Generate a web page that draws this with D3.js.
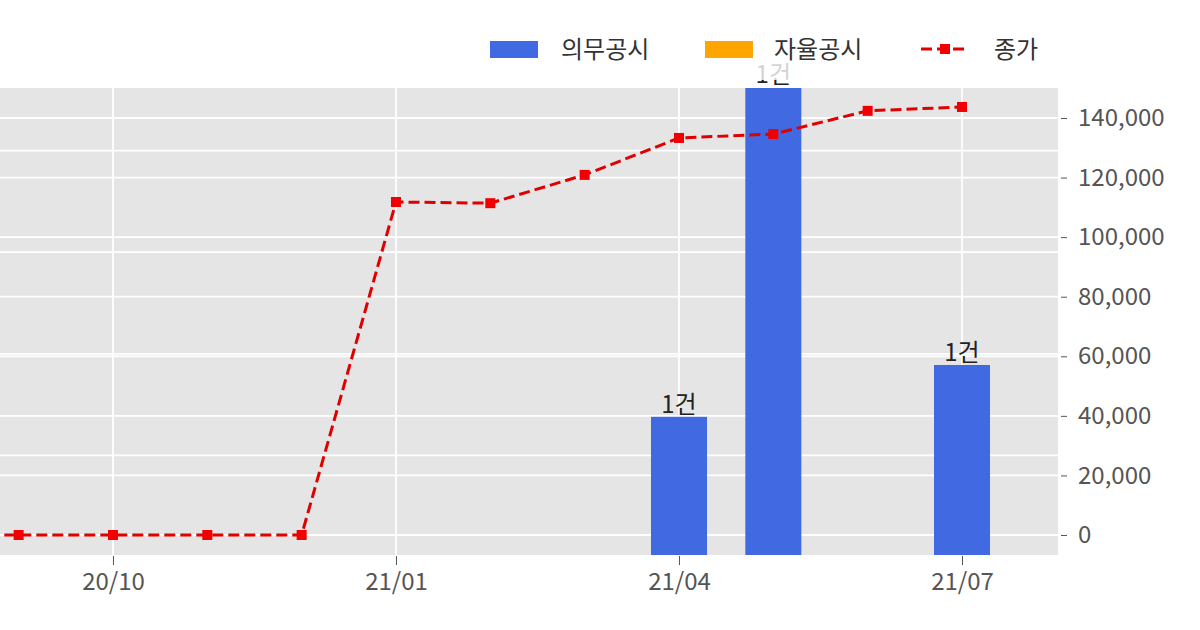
<!DOCTYPE html>
<html>
<head>
<meta charset="utf-8">
<script src="https://cdn.jsdelivr.net/npm/d3@7"></script>
<style>
  body { margin: 0; background: #fff; }
  svg { display: block; font-family: "Noto Sans CJK KR", "Noto Sans", sans-serif; }
</style>
</head>
<body>
<svg id="chart" width="1200" height="630"></svg>
<script>
// months shown (20/08 sits off the left edge of the cropped picture)
var months = ["20/08", "20/09", "20/10", "20/11", "20/12", "21/01", "21/02", "21/03", "21/04", "21/05", "21/06", "21/07"];
var tickMonths = ["20/10", "21/01", "21/04", "21/07"];

// closing price (종가)
var closePrice = [0, 0, 0, 0, 0, 111800, 111400, 120900, 133300, 134600, 142400, 143700];

// disclosures: bar height on hidden left axis, and counts for labels
var mandatory = [0, 0, 0, 0, 0, 0, 0, 0, 1.38, 4.63, 0, 1.89];
var voluntary = [0, 0, 0, 0, 0, 0, 0, 0, 0, 0, 0, 0];
var counts = [0, 0, 0, 0, 0, 0, 0, 0, 1, 1, 0, 1];

var priceTicks = [0, 20000, 40000, 60000, 80000, 100000, 120000, 140000];
var leftTicks = [0, 1, 2, 3, 4];

var svg = d3.select("#chart");
var plotTop = 88, plotBottom = 555, plotLeft = -120, plotRight = 1058;

var x = d3.scaleLinear().domain([0, months.length - 1]).range([-75.7, 962]);
var yR = d3.scaleLinear().domain([-6715, 150070]).range([plotBottom, plotTop]);
var yL = d3.scaleLinear().domain([0.02, 4.616]).range([plotBottom, plotTop]);

// plot background
svg.append("rect")
        .attr("x", plotLeft).attr("y", plotTop)
        .attr("width", plotRight - plotLeft).attr("height", plotBottom - plotTop)
        .attr("fill", "#e5e5e5");

svg.append("clipPath").attr("id", "plotclip")
        .append("rect")
        .attr("x", plotLeft).attr("y", plotTop)
        .attr("width", plotRight - plotLeft).attr("height", plotBottom - plotTop);

var grid = svg.append("g").attr("clip-path", "url(#plotclip)");

// left (bar) axis grid
grid.selectAll(".gl").data(leftTicks).enter().append("line")
        .attr("x1", plotLeft).attr("x2", plotRight)
        .attr("y1", function (d) { return yL(d); })
        .attr("y2", function (d) { return yL(d); })
        .attr("stroke", "#fff").attr("stroke-width", 1.8);

// right (price) axis grid
grid.selectAll(".gr").data(priceTicks).enter().append("line")
        .attr("x1", plotLeft).attr("x2", plotRight)
        .attr("y1", function (d) { return yR(d); })
        .attr("y2", function (d) { return yR(d); })
        .attr("stroke", "#fff").attr("stroke-width", 1.8);

// vertical grid
grid.selectAll(".gx").data(tickMonths).enter().append("line")
        .attr("x1", function (d) { return x(months.indexOf(d)); })
        .attr("x2", function (d) { return x(months.indexOf(d)); })
        .attr("y1", plotTop).attr("y2", plotBottom)
        .attr("stroke", "#fff").attr("stroke-width", 1.8);

// bars
var barW = 56;
var bars = svg.append("g").attr("clip-path", "url(#plotclip)");
months.forEach(function (m, i) {
    if (mandatory[i] > 0) {
        bars.append("rect")
                .attr("x", x(i) - barW / 2)
                .attr("y", yL(mandatory[i]))
                .attr("width", barW)
                .attr("height", yL(0) - yL(mandatory[i]))
                .attr("fill", "#4169e1");
    }
    if (voluntary[i] > 0) {
        bars.append("rect")
                .attr("x", x(i) - barW / 2)
                .attr("y", yL(mandatory[i] + voluntary[i]))
                .attr("width", barW)
                .attr("height", yL(mandatory[i]) - yL(mandatory[i] + voluntary[i]))
                .attr("fill", "#ffa500");
    }
});

// bar labels
months.forEach(function (m, i) {
    if (counts[i] > 0) {
        svg.append("text")
                .attr("x", x(i))
                .attr("y", yL(mandatory[i] + voluntary[i]) - 4)
                .attr("text-anchor", "middle")
                .attr("font-size", 24)
                .attr("fill", "#222")
                .text(counts[i] + "건");
    }
});

// price line
var lineG = svg.append("g").attr("clip-path", "url(#plotclip)");
var line = d3.line()
        .x(function (d, i) { return x(i); })
        .y(function (d) { return yR(d); });
lineG.append("path")
        .datum(closePrice)
        .attr("d", line)
        .attr("fill", "none")
        .attr("stroke", "#e00000")
        .attr("stroke-width", 3)
        .attr("stroke-dasharray", "11,5");
lineG.selectAll(".pt").data(closePrice).enter().append("rect")
        .attr("x", function (d, i) { return x(i) - 5; })
        .attr("y", function (d) { return yR(d) - 5; })
        .attr("width", 10).attr("height", 10)
        .attr("fill", "#f00000");

// right axis
var axR = svg.append("g")
        .attr("transform", "translate(1061,0)")
        .call(d3.axisRight(yR).tickValues(priceTicks).tickFormat(d3.format(",")).tickSize(6).tickPadding(11));
axR.select(".domain").remove();
axR.selectAll("line").attr("stroke", "#555");
axR.selectAll("text").attr("font-size", 24).attr("fill", "#555").attr("font-family", "Noto Sans CJK KR");

// bottom axis
var axB = svg.append("g")
        .attr("transform", "translate(0," + (plotBottom + 1) + ")")
        .call(d3.axisBottom(x)
                .tickValues(tickMonths.map(function (m) { return months.indexOf(m); }))
                .tickFormat(function (i) { return months[i]; })
                .tickSize(9).tickPadding(8));
axB.select(".domain").remove();
axB.selectAll("line").attr("stroke", "#555");
axB.selectAll("text").attr("font-size", 24).attr("fill", "#555").attr("font-family", "Noto Sans CJK KR");

// legend
var lg = svg.append("g");
lg.append("rect")
        .attr("x", 474).attr("y", 22).attr("width", 582).attr("height", 58)
        .attr("fill", "#fff").attr("fill-opacity", 0.8);
lg.append("rect").attr("x", 490).attr("y", 41).attr("width", 48).attr("height", 17).attr("fill", "#4169e1");
lg.append("text").attr("x", 561).attr("y", 58).attr("font-size", 24).attr("fill", "#333").text("의무공시");
lg.append("rect").attr("x", 705).attr("y", 41).attr("width", 48).attr("height", 17).attr("fill", "#ffa500");
lg.append("text").attr("x", 774).attr("y", 58).attr("font-size", 24).attr("fill", "#333").text("자율공시");
lg.append("line").attr("x1", 921).attr("x2", 969).attr("y1", 49).attr("y2", 49)
        .attr("stroke", "#e00000").attr("stroke-width", 3).attr("stroke-dasharray", "11,5");
lg.append("rect").attr("x", 940).attr("y", 44).attr("width", 10).attr("height", 10).attr("fill", "#f00000");
lg.append("text").attr("x", 994).attr("y", 58).attr("font-size", 24).attr("fill", "#333").text("종가");
</script>
</body>
</html>
